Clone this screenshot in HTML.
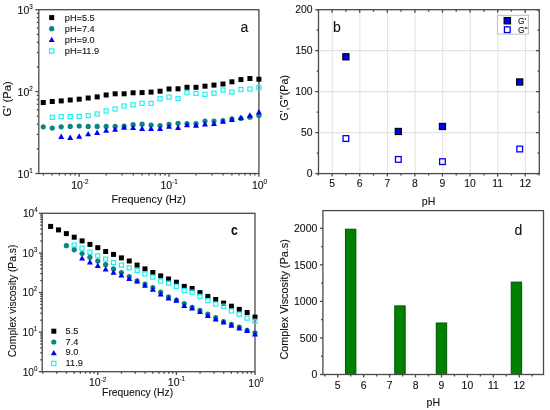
<!DOCTYPE html>
<html><head><meta charset="utf-8"><title>Rheology figure</title>
<style>
html,body{margin:0;padding:0;background:#fff;}
svg{display:block;font-family:'Liberation Sans', Arial, sans-serif;}
</style></head>
<body>
<svg width="550" height="410" viewBox="0 0 550 410">
<rect x="0" y="0" width="550" height="410" fill="#fff"/>
<line x1="43.45" y1="173.50" x2="43.45" y2="175.50" stroke="#4a4a4a" stroke-width="1.3"/>
<line x1="52.15" y1="173.50" x2="52.15" y2="175.50" stroke="#4a4a4a" stroke-width="1.3"/>
<line x1="59.27" y1="173.50" x2="59.27" y2="175.50" stroke="#4a4a4a" stroke-width="1.3"/>
<line x1="65.28" y1="173.50" x2="65.28" y2="175.50" stroke="#4a4a4a" stroke-width="1.3"/>
<line x1="70.49" y1="173.50" x2="70.49" y2="175.50" stroke="#4a4a4a" stroke-width="1.3"/>
<line x1="75.09" y1="173.50" x2="75.09" y2="175.50" stroke="#4a4a4a" stroke-width="1.3"/>
<line x1="79.20" y1="173.50" x2="79.20" y2="176.70" stroke="#4a4a4a" stroke-width="1.3"/>
<line x1="106.25" y1="173.50" x2="106.25" y2="175.50" stroke="#4a4a4a" stroke-width="1.3"/>
<line x1="122.07" y1="173.50" x2="122.07" y2="175.50" stroke="#4a4a4a" stroke-width="1.3"/>
<line x1="133.30" y1="173.50" x2="133.30" y2="175.50" stroke="#4a4a4a" stroke-width="1.3"/>
<line x1="142.00" y1="173.50" x2="142.00" y2="175.50" stroke="#4a4a4a" stroke-width="1.3"/>
<line x1="149.12" y1="173.50" x2="149.12" y2="175.50" stroke="#4a4a4a" stroke-width="1.3"/>
<line x1="155.13" y1="173.50" x2="155.13" y2="175.50" stroke="#4a4a4a" stroke-width="1.3"/>
<line x1="160.34" y1="173.50" x2="160.34" y2="175.50" stroke="#4a4a4a" stroke-width="1.3"/>
<line x1="164.94" y1="173.50" x2="164.94" y2="175.50" stroke="#4a4a4a" stroke-width="1.3"/>
<line x1="169.05" y1="173.50" x2="169.05" y2="176.70" stroke="#4a4a4a" stroke-width="1.3"/>
<line x1="196.10" y1="173.50" x2="196.10" y2="175.50" stroke="#4a4a4a" stroke-width="1.3"/>
<line x1="211.92" y1="173.50" x2="211.92" y2="175.50" stroke="#4a4a4a" stroke-width="1.3"/>
<line x1="223.15" y1="173.50" x2="223.15" y2="175.50" stroke="#4a4a4a" stroke-width="1.3"/>
<line x1="231.85" y1="173.50" x2="231.85" y2="175.50" stroke="#4a4a4a" stroke-width="1.3"/>
<line x1="238.97" y1="173.50" x2="238.97" y2="175.50" stroke="#4a4a4a" stroke-width="1.3"/>
<line x1="244.98" y1="173.50" x2="244.98" y2="175.50" stroke="#4a4a4a" stroke-width="1.3"/>
<line x1="250.19" y1="173.50" x2="250.19" y2="175.50" stroke="#4a4a4a" stroke-width="1.3"/>
<line x1="254.79" y1="173.50" x2="254.79" y2="175.50" stroke="#4a4a4a" stroke-width="1.3"/>
<line x1="258.90" y1="173.50" x2="258.90" y2="176.70" stroke="#4a4a4a" stroke-width="1.3"/>
<line x1="35.40" y1="173.50" x2="38.80" y2="173.50" stroke="#4a4a4a" stroke-width="1.3"/>
<line x1="36.80" y1="148.85" x2="38.80" y2="148.85" stroke="#4a4a4a" stroke-width="1.3"/>
<line x1="36.80" y1="134.42" x2="38.80" y2="134.42" stroke="#4a4a4a" stroke-width="1.3"/>
<line x1="36.80" y1="124.19" x2="38.80" y2="124.19" stroke="#4a4a4a" stroke-width="1.3"/>
<line x1="36.80" y1="116.25" x2="38.80" y2="116.25" stroke="#4a4a4a" stroke-width="1.3"/>
<line x1="36.80" y1="109.77" x2="38.80" y2="109.77" stroke="#4a4a4a" stroke-width="1.3"/>
<line x1="36.80" y1="104.29" x2="38.80" y2="104.29" stroke="#4a4a4a" stroke-width="1.3"/>
<line x1="36.80" y1="99.54" x2="38.80" y2="99.54" stroke="#4a4a4a" stroke-width="1.3"/>
<line x1="36.80" y1="95.35" x2="38.80" y2="95.35" stroke="#4a4a4a" stroke-width="1.3"/>
<line x1="35.40" y1="91.60" x2="38.80" y2="91.60" stroke="#4a4a4a" stroke-width="1.3"/>
<line x1="36.80" y1="66.95" x2="38.80" y2="66.95" stroke="#4a4a4a" stroke-width="1.3"/>
<line x1="36.80" y1="52.52" x2="38.80" y2="52.52" stroke="#4a4a4a" stroke-width="1.3"/>
<line x1="36.80" y1="42.29" x2="38.80" y2="42.29" stroke="#4a4a4a" stroke-width="1.3"/>
<line x1="36.80" y1="34.35" x2="38.80" y2="34.35" stroke="#4a4a4a" stroke-width="1.3"/>
<line x1="36.80" y1="27.87" x2="38.80" y2="27.87" stroke="#4a4a4a" stroke-width="1.3"/>
<line x1="36.80" y1="22.39" x2="38.80" y2="22.39" stroke="#4a4a4a" stroke-width="1.3"/>
<line x1="36.80" y1="17.64" x2="38.80" y2="17.64" stroke="#4a4a4a" stroke-width="1.3"/>
<line x1="36.80" y1="13.45" x2="38.80" y2="13.45" stroke="#4a4a4a" stroke-width="1.3"/>
<line x1="35.40" y1="9.70" x2="38.80" y2="9.70" stroke="#4a4a4a" stroke-width="1.3"/>
<rect x="38.80" y="9.70" width="220.10" height="163.80" fill="none" stroke="#4a4a4a" stroke-width="1.3"/>
<text x="17.60" y="13.60" font-size="10.5" fill="#111111" stroke="#111111" stroke-width="0.1">10<tspan font-size="6.3" dy="-5.0">3</tspan></text>
<text x="17.60" y="95.50" font-size="10.5" fill="#111111" stroke="#111111" stroke-width="0.1">10<tspan font-size="6.3" dy="-5.0">2</tspan></text>
<text x="17.60" y="177.60" font-size="10.5" fill="#111111" stroke="#111111" stroke-width="0.1">10<tspan font-size="6.3" dy="-5.0">1</tspan></text>
<text x="71.20" y="188.60" font-size="10.5" fill="#111111" stroke="#111111" stroke-width="0.1">10<tspan font-size="6.3" dy="-4.9">-2</tspan></text>
<text x="160.40" y="189.20" font-size="10.5" fill="#111111" stroke="#111111" stroke-width="0.1">10<tspan font-size="6.3" dy="-4.9">-1</tspan></text>
<text x="251.90" y="189.40" font-size="10.5" fill="#111111" stroke="#111111" stroke-width="0.1">10<tspan font-size="6.3" dy="-5.0">0</tspan></text>
<text x="148.60" y="203.00" font-size="10.8" text-anchor="middle" font-weight="normal" fill="#111111" stroke="#111111" stroke-width="0.1" >Frequency (Hz)</text>
<text transform="translate(11.3,98.9) rotate(-90)" font-size="11.3" text-anchor="middle" fill="#111111" stroke="#111111" stroke-width="0.1">G' (Pa)</text>
<text x="240.50" y="31.90" font-size="14" text-anchor="start" font-weight="normal" fill="#111111" stroke="#111111" stroke-width="0.1" >a</text>
<rect x="49.20" y="15.10" width="5.00" height="5.00" fill="#000000"/>
<circle cx="51.70" cy="28.70" r="2.60" fill="#0b8580"/>
<polygon points="48.70,42.00 54.70,42.00 51.70,36.80" fill="#0000f5"/>
<rect x="49.55" y="48.85" width="4.30" height="4.30" fill="none" stroke="#22f0f0" stroke-width="1.2"/>
<text x="64.80" y="20.60" font-size="9.2" text-anchor="start" font-weight="normal" fill="#111111" stroke="#111111" stroke-width="0.1" >pH=5.5</text>
<text x="64.80" y="31.57" font-size="9.2" text-anchor="start" font-weight="normal" fill="#111111" stroke="#111111" stroke-width="0.1" >pH=7.4</text>
<text x="64.80" y="42.54" font-size="9.2" text-anchor="start" font-weight="normal" fill="#111111" stroke="#111111" stroke-width="0.1" >pH=9.0</text>
<text x="64.80" y="53.51" font-size="9.2" text-anchor="start" font-weight="normal" fill="#111111" stroke="#111111" stroke-width="0.1" >pH=11.9</text>
<rect x="40.76" y="100.00" width="5.00" height="5.00" fill="#000000"/>
<rect x="49.75" y="99.00" width="5.00" height="5.00" fill="#000000"/>
<rect x="58.73" y="98.40" width="5.00" height="5.00" fill="#000000"/>
<rect x="67.72" y="97.50" width="5.00" height="5.00" fill="#000000"/>
<rect x="76.70" y="96.70" width="5.00" height="5.00" fill="#000000"/>
<rect x="85.69" y="95.50" width="5.00" height="5.00" fill="#000000"/>
<rect x="94.67" y="94.40" width="5.00" height="5.00" fill="#000000"/>
<rect x="103.66" y="92.50" width="5.00" height="5.00" fill="#000000"/>
<rect x="112.64" y="91.30" width="5.00" height="5.00" fill="#000000"/>
<rect x="121.62" y="91.30" width="5.00" height="5.00" fill="#000000"/>
<rect x="130.61" y="90.30" width="5.00" height="5.00" fill="#000000"/>
<rect x="139.60" y="90.10" width="5.00" height="5.00" fill="#000000"/>
<rect x="148.58" y="89.60" width="5.00" height="5.00" fill="#000000"/>
<rect x="157.56" y="88.70" width="5.00" height="5.00" fill="#000000"/>
<rect x="166.55" y="86.50" width="5.00" height="5.00" fill="#000000"/>
<rect x="175.54" y="86.30" width="5.00" height="5.00" fill="#000000"/>
<rect x="184.52" y="84.80" width="5.00" height="5.00" fill="#000000"/>
<rect x="193.51" y="84.80" width="5.00" height="5.00" fill="#000000"/>
<rect x="202.49" y="83.70" width="5.00" height="5.00" fill="#000000"/>
<rect x="211.48" y="82.60" width="5.00" height="5.00" fill="#000000"/>
<rect x="220.46" y="81.50" width="5.00" height="5.00" fill="#000000"/>
<rect x="229.44" y="79.30" width="5.00" height="5.00" fill="#000000"/>
<rect x="238.43" y="77.10" width="5.00" height="5.00" fill="#000000"/>
<rect x="247.42" y="76.00" width="5.00" height="5.00" fill="#000000"/>
<rect x="256.40" y="76.70" width="5.00" height="5.00" fill="#000000"/>
<rect x="50.20" y="115.25" width="4.10" height="4.10" fill="none" stroke="#22f0f0" stroke-width="1.2"/>
<rect x="59.18" y="114.55" width="4.10" height="4.10" fill="none" stroke="#22f0f0" stroke-width="1.2"/>
<rect x="68.17" y="114.55" width="4.10" height="4.10" fill="none" stroke="#22f0f0" stroke-width="1.2"/>
<rect x="77.15" y="114.35" width="4.10" height="4.10" fill="none" stroke="#22f0f0" stroke-width="1.2"/>
<rect x="86.13" y="113.55" width="4.10" height="4.10" fill="none" stroke="#22f0f0" stroke-width="1.2"/>
<rect x="95.12" y="111.95" width="4.10" height="4.10" fill="none" stroke="#22f0f0" stroke-width="1.2"/>
<rect x="104.11" y="108.95" width="4.10" height="4.10" fill="none" stroke="#22f0f0" stroke-width="1.2"/>
<rect x="113.09" y="106.95" width="4.10" height="4.10" fill="none" stroke="#22f0f0" stroke-width="1.2"/>
<rect x="122.08" y="103.95" width="4.10" height="4.10" fill="none" stroke="#22f0f0" stroke-width="1.2"/>
<rect x="131.06" y="102.75" width="4.10" height="4.10" fill="none" stroke="#22f0f0" stroke-width="1.2"/>
<rect x="140.05" y="101.25" width="4.10" height="4.10" fill="none" stroke="#22f0f0" stroke-width="1.2"/>
<rect x="149.03" y="101.35" width="4.10" height="4.10" fill="none" stroke="#22f0f0" stroke-width="1.2"/>
<rect x="158.02" y="96.75" width="4.10" height="4.10" fill="none" stroke="#22f0f0" stroke-width="1.2"/>
<rect x="167.00" y="95.05" width="4.10" height="4.10" fill="none" stroke="#22f0f0" stroke-width="1.2"/>
<rect x="175.99" y="96.55" width="4.10" height="4.10" fill="none" stroke="#22f0f0" stroke-width="1.2"/>
<rect x="184.97" y="90.65" width="4.10" height="4.10" fill="none" stroke="#22f0f0" stroke-width="1.2"/>
<rect x="193.96" y="91.35" width="4.10" height="4.10" fill="none" stroke="#22f0f0" stroke-width="1.2"/>
<rect x="202.94" y="92.25" width="4.10" height="4.10" fill="none" stroke="#22f0f0" stroke-width="1.2"/>
<rect x="211.93" y="91.15" width="4.10" height="4.10" fill="none" stroke="#22f0f0" stroke-width="1.2"/>
<rect x="220.91" y="88.05" width="4.10" height="4.10" fill="none" stroke="#22f0f0" stroke-width="1.2"/>
<rect x="229.89" y="90.05" width="4.10" height="4.10" fill="none" stroke="#22f0f0" stroke-width="1.2"/>
<rect x="238.88" y="87.45" width="4.10" height="4.10" fill="none" stroke="#22f0f0" stroke-width="1.2"/>
<rect x="247.87" y="86.95" width="4.10" height="4.10" fill="none" stroke="#22f0f0" stroke-width="1.2"/>
<rect x="256.85" y="85.65" width="4.10" height="4.10" fill="none" stroke="#22f0f0" stroke-width="1.2"/>
<circle cx="43.26" cy="126.80" r="2.60" fill="#0b8580"/>
<circle cx="52.25" cy="128.00" r="2.60" fill="#0b8580"/>
<circle cx="61.23" cy="126.80" r="2.60" fill="#0b8580"/>
<circle cx="70.22" cy="126.40" r="2.60" fill="#0b8580"/>
<circle cx="79.20" cy="126.00" r="2.60" fill="#0b8580"/>
<circle cx="88.19" cy="126.40" r="2.60" fill="#0b8580"/>
<circle cx="97.17" cy="126.40" r="2.60" fill="#0b8580"/>
<circle cx="106.16" cy="126.40" r="2.60" fill="#0b8580"/>
<circle cx="115.14" cy="126.40" r="2.60" fill="#0b8580"/>
<circle cx="124.12" cy="126.00" r="2.60" fill="#0b8580"/>
<circle cx="133.11" cy="124.70" r="2.60" fill="#0b8580"/>
<circle cx="142.10" cy="124.20" r="2.60" fill="#0b8580"/>
<circle cx="151.08" cy="125.00" r="2.60" fill="#0b8580"/>
<circle cx="160.06" cy="125.50" r="2.60" fill="#0b8580"/>
<circle cx="169.05" cy="124.40" r="2.60" fill="#0b8580"/>
<circle cx="178.04" cy="123.30" r="2.60" fill="#0b8580"/>
<circle cx="187.02" cy="123.70" r="2.60" fill="#0b8580"/>
<circle cx="196.01" cy="123.70" r="2.60" fill="#0b8580"/>
<circle cx="204.99" cy="121.10" r="2.60" fill="#0b8580"/>
<circle cx="213.98" cy="121.10" r="2.60" fill="#0b8580"/>
<circle cx="222.96" cy="120.70" r="2.60" fill="#0b8580"/>
<circle cx="231.94" cy="118.90" r="2.60" fill="#0b8580"/>
<circle cx="240.93" cy="118.50" r="2.60" fill="#0b8580"/>
<circle cx="249.92" cy="117.20" r="2.60" fill="#0b8580"/>
<circle cx="258.90" cy="115.60" r="2.60" fill="#0b8580"/>
<polygon points="58.23,139.00 64.23,139.00 61.23,133.60" fill="#0000f5"/>
<polygon points="67.22,139.90 73.22,139.90 70.22,134.50" fill="#0000f5"/>
<polygon points="76.20,138.70 82.20,138.70 79.20,133.30" fill="#0000f5"/>
<polygon points="85.18,136.30 91.18,136.30 88.18,130.90" fill="#0000f5"/>
<polygon points="94.17,134.90 100.17,134.90 97.17,129.50" fill="#0000f5"/>
<polygon points="103.15,132.80 109.15,132.80 106.15,127.40" fill="#0000f5"/>
<polygon points="112.14,131.80 118.14,131.80 115.14,126.40" fill="#0000f5"/>
<polygon points="121.12,129.70 127.12,129.70 124.12,124.30" fill="#0000f5"/>
<polygon points="130.11,130.10 136.11,130.10 133.11,124.70" fill="#0000f5"/>
<polygon points="139.09,131.00 145.09,131.00 142.09,125.60" fill="#0000f5"/>
<polygon points="148.08,131.00 154.08,131.00 151.08,125.60" fill="#0000f5"/>
<polygon points="157.06,131.00 163.06,131.00 160.06,125.60" fill="#0000f5"/>
<polygon points="166.05,128.80 172.05,128.80 169.05,123.40" fill="#0000f5"/>
<polygon points="175.03,129.90 181.03,129.90 178.03,124.50" fill="#0000f5"/>
<polygon points="184.02,127.30 190.02,127.30 187.02,121.90" fill="#0000f5"/>
<polygon points="193.00,127.70 199.00,127.70 196.00,122.30" fill="#0000f5"/>
<polygon points="201.99,126.40 207.99,126.40 204.99,121.00" fill="#0000f5"/>
<polygon points="210.97,126.00 216.97,126.00 213.97,120.60" fill="#0000f5"/>
<polygon points="219.96,123.80 225.96,123.80 222.96,118.40" fill="#0000f5"/>
<polygon points="228.94,122.00 234.94,122.00 231.94,116.60" fill="#0000f5"/>
<polygon points="237.93,119.90 243.93,119.90 240.93,114.50" fill="#0000f5"/>
<polygon points="246.91,117.70 252.91,117.70 249.91,112.30" fill="#0000f5"/>
<polygon points="255.90,114.40 261.90,114.40 258.90,109.00" fill="#0000f5"/>
<line x1="332.30" y1="9.70" x2="332.30" y2="173.60" stroke="#e4e4e4" stroke-width="1.1"/>
<line x1="359.89" y1="9.70" x2="359.89" y2="173.60" stroke="#e4e4e4" stroke-width="1.1"/>
<line x1="387.48" y1="9.70" x2="387.48" y2="173.60" stroke="#e4e4e4" stroke-width="1.1"/>
<line x1="415.07" y1="9.70" x2="415.07" y2="173.60" stroke="#e4e4e4" stroke-width="1.1"/>
<line x1="442.66" y1="9.70" x2="442.66" y2="173.60" stroke="#e4e4e4" stroke-width="1.1"/>
<line x1="470.25" y1="9.70" x2="470.25" y2="173.60" stroke="#e4e4e4" stroke-width="1.1"/>
<line x1="497.84" y1="9.70" x2="497.84" y2="173.60" stroke="#e4e4e4" stroke-width="1.1"/>
<line x1="525.43" y1="9.70" x2="525.43" y2="173.60" stroke="#e4e4e4" stroke-width="1.1"/>
<line x1="318.50" y1="132.62" x2="539.30" y2="132.62" stroke="#e4e4e4" stroke-width="1.1"/>
<line x1="318.50" y1="91.65" x2="539.30" y2="91.65" stroke="#e4e4e4" stroke-width="1.1"/>
<line x1="318.50" y1="50.67" x2="539.30" y2="50.67" stroke="#e4e4e4" stroke-width="1.1"/>
<line x1="318.31" y1="173.60" x2="318.31" y2="175.60" stroke="#4a4a4a" stroke-width="1.3"/>
<line x1="318.31" y1="9.70" x2="318.31" y2="11.70" stroke="#4a4a4a" stroke-width="1.3"/>
<line x1="332.10" y1="173.60" x2="332.10" y2="176.60" stroke="#4a4a4a" stroke-width="1.3"/>
<line x1="332.10" y1="9.70" x2="332.10" y2="12.70" stroke="#4a4a4a" stroke-width="1.3"/>
<line x1="345.90" y1="173.60" x2="345.90" y2="175.60" stroke="#4a4a4a" stroke-width="1.3"/>
<line x1="345.90" y1="9.70" x2="345.90" y2="11.70" stroke="#4a4a4a" stroke-width="1.3"/>
<line x1="359.69" y1="173.60" x2="359.69" y2="176.60" stroke="#4a4a4a" stroke-width="1.3"/>
<line x1="359.69" y1="9.70" x2="359.69" y2="12.70" stroke="#4a4a4a" stroke-width="1.3"/>
<line x1="373.49" y1="173.60" x2="373.49" y2="175.60" stroke="#4a4a4a" stroke-width="1.3"/>
<line x1="373.49" y1="9.70" x2="373.49" y2="11.70" stroke="#4a4a4a" stroke-width="1.3"/>
<line x1="387.28" y1="173.60" x2="387.28" y2="176.60" stroke="#4a4a4a" stroke-width="1.3"/>
<line x1="387.28" y1="9.70" x2="387.28" y2="12.70" stroke="#4a4a4a" stroke-width="1.3"/>
<line x1="401.08" y1="173.60" x2="401.08" y2="175.60" stroke="#4a4a4a" stroke-width="1.3"/>
<line x1="401.08" y1="9.70" x2="401.08" y2="11.70" stroke="#4a4a4a" stroke-width="1.3"/>
<line x1="414.87" y1="173.60" x2="414.87" y2="176.60" stroke="#4a4a4a" stroke-width="1.3"/>
<line x1="414.87" y1="9.70" x2="414.87" y2="12.70" stroke="#4a4a4a" stroke-width="1.3"/>
<line x1="428.67" y1="173.60" x2="428.67" y2="175.60" stroke="#4a4a4a" stroke-width="1.3"/>
<line x1="428.67" y1="9.70" x2="428.67" y2="11.70" stroke="#4a4a4a" stroke-width="1.3"/>
<line x1="442.46" y1="173.60" x2="442.46" y2="176.60" stroke="#4a4a4a" stroke-width="1.3"/>
<line x1="442.46" y1="9.70" x2="442.46" y2="12.70" stroke="#4a4a4a" stroke-width="1.3"/>
<line x1="456.25" y1="173.60" x2="456.25" y2="175.60" stroke="#4a4a4a" stroke-width="1.3"/>
<line x1="456.25" y1="9.70" x2="456.25" y2="11.70" stroke="#4a4a4a" stroke-width="1.3"/>
<line x1="470.05" y1="173.60" x2="470.05" y2="176.60" stroke="#4a4a4a" stroke-width="1.3"/>
<line x1="470.05" y1="9.70" x2="470.05" y2="12.70" stroke="#4a4a4a" stroke-width="1.3"/>
<line x1="483.85" y1="173.60" x2="483.85" y2="175.60" stroke="#4a4a4a" stroke-width="1.3"/>
<line x1="483.85" y1="9.70" x2="483.85" y2="11.70" stroke="#4a4a4a" stroke-width="1.3"/>
<line x1="497.64" y1="173.60" x2="497.64" y2="176.60" stroke="#4a4a4a" stroke-width="1.3"/>
<line x1="497.64" y1="9.70" x2="497.64" y2="12.70" stroke="#4a4a4a" stroke-width="1.3"/>
<line x1="511.44" y1="173.60" x2="511.44" y2="175.60" stroke="#4a4a4a" stroke-width="1.3"/>
<line x1="511.44" y1="9.70" x2="511.44" y2="11.70" stroke="#4a4a4a" stroke-width="1.3"/>
<line x1="525.23" y1="173.60" x2="525.23" y2="176.60" stroke="#4a4a4a" stroke-width="1.3"/>
<line x1="525.23" y1="9.70" x2="525.23" y2="12.70" stroke="#4a4a4a" stroke-width="1.3"/>
<line x1="539.03" y1="173.60" x2="539.03" y2="175.60" stroke="#4a4a4a" stroke-width="1.3"/>
<line x1="539.03" y1="9.70" x2="539.03" y2="11.70" stroke="#4a4a4a" stroke-width="1.3"/>
<line x1="315.30" y1="173.60" x2="318.50" y2="173.60" stroke="#4a4a4a" stroke-width="1.3"/>
<line x1="536.10" y1="173.60" x2="539.30" y2="173.60" stroke="#4a4a4a" stroke-width="1.3"/>
<line x1="316.70" y1="153.11" x2="318.50" y2="153.11" stroke="#4a4a4a" stroke-width="1.3"/>
<line x1="537.50" y1="153.11" x2="539.30" y2="153.11" stroke="#4a4a4a" stroke-width="1.3"/>
<line x1="315.30" y1="132.62" x2="318.50" y2="132.62" stroke="#4a4a4a" stroke-width="1.3"/>
<line x1="536.10" y1="132.62" x2="539.30" y2="132.62" stroke="#4a4a4a" stroke-width="1.3"/>
<line x1="316.70" y1="112.14" x2="318.50" y2="112.14" stroke="#4a4a4a" stroke-width="1.3"/>
<line x1="537.50" y1="112.14" x2="539.30" y2="112.14" stroke="#4a4a4a" stroke-width="1.3"/>
<line x1="315.30" y1="91.65" x2="318.50" y2="91.65" stroke="#4a4a4a" stroke-width="1.3"/>
<line x1="536.10" y1="91.65" x2="539.30" y2="91.65" stroke="#4a4a4a" stroke-width="1.3"/>
<line x1="316.70" y1="71.16" x2="318.50" y2="71.16" stroke="#4a4a4a" stroke-width="1.3"/>
<line x1="537.50" y1="71.16" x2="539.30" y2="71.16" stroke="#4a4a4a" stroke-width="1.3"/>
<line x1="315.30" y1="50.67" x2="318.50" y2="50.67" stroke="#4a4a4a" stroke-width="1.3"/>
<line x1="536.10" y1="50.67" x2="539.30" y2="50.67" stroke="#4a4a4a" stroke-width="1.3"/>
<line x1="316.70" y1="30.19" x2="318.50" y2="30.19" stroke="#4a4a4a" stroke-width="1.3"/>
<line x1="537.50" y1="30.19" x2="539.30" y2="30.19" stroke="#4a4a4a" stroke-width="1.3"/>
<line x1="315.30" y1="9.70" x2="318.50" y2="9.70" stroke="#4a4a4a" stroke-width="1.3"/>
<line x1="536.10" y1="9.70" x2="539.30" y2="9.70" stroke="#4a4a4a" stroke-width="1.3"/>
<rect x="318.50" y="9.70" width="220.80" height="163.90" fill="none" stroke="#4a4a4a" stroke-width="1.3"/>
<text x="312.60" y="177.20" font-size="10.4" text-anchor="end" font-weight="normal" fill="#111111" stroke="#111111" stroke-width="0.1" >0</text>
<text x="312.60" y="136.22" font-size="10.4" text-anchor="end" font-weight="normal" fill="#111111" stroke="#111111" stroke-width="0.1" >50</text>
<text x="312.60" y="95.25" font-size="10.4" text-anchor="end" font-weight="normal" fill="#111111" stroke="#111111" stroke-width="0.1" >100</text>
<text x="312.60" y="54.27" font-size="10.4" text-anchor="end" font-weight="normal" fill="#111111" stroke="#111111" stroke-width="0.1" >150</text>
<text x="312.60" y="13.30" font-size="10.4" text-anchor="end" font-weight="normal" fill="#111111" stroke="#111111" stroke-width="0.1" >200</text>
<text x="332.10" y="187.30" font-size="10.4" text-anchor="middle" font-weight="normal" fill="#111111" stroke="#111111" stroke-width="0.1" >5</text>
<text x="359.69" y="187.30" font-size="10.4" text-anchor="middle" font-weight="normal" fill="#111111" stroke="#111111" stroke-width="0.1" >6</text>
<text x="387.28" y="187.30" font-size="10.4" text-anchor="middle" font-weight="normal" fill="#111111" stroke="#111111" stroke-width="0.1" >7</text>
<text x="414.87" y="187.30" font-size="10.4" text-anchor="middle" font-weight="normal" fill="#111111" stroke="#111111" stroke-width="0.1" >8</text>
<text x="442.46" y="187.30" font-size="10.4" text-anchor="middle" font-weight="normal" fill="#111111" stroke="#111111" stroke-width="0.1" >9</text>
<text x="470.05" y="187.30" font-size="10.4" text-anchor="middle" font-weight="normal" fill="#111111" stroke="#111111" stroke-width="0.1" >10</text>
<text x="497.64" y="187.30" font-size="10.4" text-anchor="middle" font-weight="normal" fill="#111111" stroke="#111111" stroke-width="0.1" >11</text>
<text x="525.23" y="187.30" font-size="10.4" text-anchor="middle" font-weight="normal" fill="#111111" stroke="#111111" stroke-width="0.1" >12</text>
<text x="428.60" y="204.70" font-size="10.6" text-anchor="middle" font-weight="normal" fill="#111111" stroke="#111111" stroke-width="0.1" >pH</text>
<text transform="translate(288.2,98.0) rotate(-90)" font-size="10.65" text-anchor="middle" fill="#111111" stroke="#111111" stroke-width="0.1">G',G''(Pa)</text>
<text x="333.00" y="31.60" font-size="14" text-anchor="start" font-weight="normal" fill="#111111" stroke="#111111" stroke-width="0.1" >b</text>
<rect x="497.4" y="15.3" width="31.2" height="18.8" fill="#fff" stroke="#b8b8b8" stroke-width="0.9"/>
<rect x="504.10" y="17.50" width="6.40" height="6.40" fill="#0000f5" stroke="#000" stroke-width="1.1"/>
<rect x="504.45" y="26.85" width="5.70" height="5.70" fill="none" stroke="#0000f5" stroke-width="1.3"/>
<text x="518.00" y="23.60" font-size="8.4" text-anchor="start" font-weight="normal" fill="#111111" stroke="#111111" stroke-width="0.1" >G'</text>
<text x="518.00" y="32.80" font-size="8.4" text-anchor="start" font-weight="normal" fill="#111111" stroke="#111111" stroke-width="0.1" >G''</text>
<rect x="342.80" y="53.72" width="6.20" height="6.20" fill="#0000f5" stroke="#000" stroke-width="1.1"/>
<rect x="395.22" y="128.38" width="6.20" height="6.20" fill="#0000f5" stroke="#000" stroke-width="1.1"/>
<rect x="439.36" y="123.38" width="6.20" height="6.20" fill="#0000f5" stroke="#000" stroke-width="1.1"/>
<rect x="516.61" y="78.88" width="6.20" height="6.20" fill="#0000f5" stroke="#000" stroke-width="1.1"/>
<rect x="343.05" y="135.68" width="5.70" height="5.70" fill="none" stroke="#0000f5" stroke-width="1.3"/>
<rect x="395.47" y="156.57" width="5.70" height="5.70" fill="none" stroke="#0000f5" stroke-width="1.3"/>
<rect x="439.61" y="158.79" width="5.70" height="5.70" fill="none" stroke="#0000f5" stroke-width="1.3"/>
<rect x="516.86" y="146.16" width="5.70" height="5.70" fill="none" stroke="#0000f5" stroke-width="1.3"/>
<line x1="42.86" y1="371.70" x2="42.86" y2="373.70" stroke="#4a4a4a" stroke-width="1.3"/>
<line x1="56.70" y1="371.70" x2="56.70" y2="373.70" stroke="#4a4a4a" stroke-width="1.3"/>
<line x1="66.52" y1="371.70" x2="66.52" y2="373.70" stroke="#4a4a4a" stroke-width="1.3"/>
<line x1="74.14" y1="371.70" x2="74.14" y2="373.70" stroke="#4a4a4a" stroke-width="1.3"/>
<line x1="80.36" y1="371.70" x2="80.36" y2="373.70" stroke="#4a4a4a" stroke-width="1.3"/>
<line x1="85.62" y1="371.70" x2="85.62" y2="373.70" stroke="#4a4a4a" stroke-width="1.3"/>
<line x1="90.18" y1="371.70" x2="90.18" y2="373.70" stroke="#4a4a4a" stroke-width="1.3"/>
<line x1="94.20" y1="371.70" x2="94.20" y2="373.70" stroke="#4a4a4a" stroke-width="1.3"/>
<line x1="97.80" y1="371.70" x2="97.80" y2="374.90" stroke="#4a4a4a" stroke-width="1.3"/>
<line x1="121.46" y1="371.70" x2="121.46" y2="373.70" stroke="#4a4a4a" stroke-width="1.3"/>
<line x1="135.30" y1="371.70" x2="135.30" y2="373.70" stroke="#4a4a4a" stroke-width="1.3"/>
<line x1="145.12" y1="371.70" x2="145.12" y2="373.70" stroke="#4a4a4a" stroke-width="1.3"/>
<line x1="152.74" y1="371.70" x2="152.74" y2="373.70" stroke="#4a4a4a" stroke-width="1.3"/>
<line x1="158.96" y1="371.70" x2="158.96" y2="373.70" stroke="#4a4a4a" stroke-width="1.3"/>
<line x1="164.22" y1="371.70" x2="164.22" y2="373.70" stroke="#4a4a4a" stroke-width="1.3"/>
<line x1="168.78" y1="371.70" x2="168.78" y2="373.70" stroke="#4a4a4a" stroke-width="1.3"/>
<line x1="172.80" y1="371.70" x2="172.80" y2="373.70" stroke="#4a4a4a" stroke-width="1.3"/>
<line x1="176.40" y1="371.70" x2="176.40" y2="374.90" stroke="#4a4a4a" stroke-width="1.3"/>
<line x1="200.06" y1="371.70" x2="200.06" y2="373.70" stroke="#4a4a4a" stroke-width="1.3"/>
<line x1="213.90" y1="371.70" x2="213.90" y2="373.70" stroke="#4a4a4a" stroke-width="1.3"/>
<line x1="223.72" y1="371.70" x2="223.72" y2="373.70" stroke="#4a4a4a" stroke-width="1.3"/>
<line x1="231.34" y1="371.70" x2="231.34" y2="373.70" stroke="#4a4a4a" stroke-width="1.3"/>
<line x1="237.56" y1="371.70" x2="237.56" y2="373.70" stroke="#4a4a4a" stroke-width="1.3"/>
<line x1="242.82" y1="371.70" x2="242.82" y2="373.70" stroke="#4a4a4a" stroke-width="1.3"/>
<line x1="247.38" y1="371.70" x2="247.38" y2="373.70" stroke="#4a4a4a" stroke-width="1.3"/>
<line x1="251.40" y1="371.70" x2="251.40" y2="373.70" stroke="#4a4a4a" stroke-width="1.3"/>
<line x1="255.00" y1="371.70" x2="255.00" y2="374.90" stroke="#4a4a4a" stroke-width="1.3"/>
<line x1="38.80" y1="371.70" x2="42.20" y2="371.70" stroke="#4a4a4a" stroke-width="1.3"/>
<line x1="40.20" y1="359.78" x2="42.20" y2="359.78" stroke="#4a4a4a" stroke-width="1.3"/>
<line x1="40.20" y1="352.81" x2="42.20" y2="352.81" stroke="#4a4a4a" stroke-width="1.3"/>
<line x1="40.20" y1="347.86" x2="42.20" y2="347.86" stroke="#4a4a4a" stroke-width="1.3"/>
<line x1="40.20" y1="344.02" x2="42.20" y2="344.02" stroke="#4a4a4a" stroke-width="1.3"/>
<line x1="40.20" y1="340.89" x2="42.20" y2="340.89" stroke="#4a4a4a" stroke-width="1.3"/>
<line x1="40.20" y1="338.23" x2="42.20" y2="338.23" stroke="#4a4a4a" stroke-width="1.3"/>
<line x1="40.20" y1="335.94" x2="42.20" y2="335.94" stroke="#4a4a4a" stroke-width="1.3"/>
<line x1="40.20" y1="333.91" x2="42.20" y2="333.91" stroke="#4a4a4a" stroke-width="1.3"/>
<line x1="38.80" y1="332.10" x2="42.20" y2="332.10" stroke="#4a4a4a" stroke-width="1.3"/>
<line x1="40.20" y1="320.18" x2="42.20" y2="320.18" stroke="#4a4a4a" stroke-width="1.3"/>
<line x1="40.20" y1="313.21" x2="42.20" y2="313.21" stroke="#4a4a4a" stroke-width="1.3"/>
<line x1="40.20" y1="308.26" x2="42.20" y2="308.26" stroke="#4a4a4a" stroke-width="1.3"/>
<line x1="40.20" y1="304.42" x2="42.20" y2="304.42" stroke="#4a4a4a" stroke-width="1.3"/>
<line x1="40.20" y1="301.29" x2="42.20" y2="301.29" stroke="#4a4a4a" stroke-width="1.3"/>
<line x1="40.20" y1="298.63" x2="42.20" y2="298.63" stroke="#4a4a4a" stroke-width="1.3"/>
<line x1="40.20" y1="296.34" x2="42.20" y2="296.34" stroke="#4a4a4a" stroke-width="1.3"/>
<line x1="40.20" y1="294.31" x2="42.20" y2="294.31" stroke="#4a4a4a" stroke-width="1.3"/>
<line x1="38.80" y1="292.50" x2="42.20" y2="292.50" stroke="#4a4a4a" stroke-width="1.3"/>
<line x1="40.20" y1="280.58" x2="42.20" y2="280.58" stroke="#4a4a4a" stroke-width="1.3"/>
<line x1="40.20" y1="273.61" x2="42.20" y2="273.61" stroke="#4a4a4a" stroke-width="1.3"/>
<line x1="40.20" y1="268.66" x2="42.20" y2="268.66" stroke="#4a4a4a" stroke-width="1.3"/>
<line x1="40.20" y1="264.82" x2="42.20" y2="264.82" stroke="#4a4a4a" stroke-width="1.3"/>
<line x1="40.20" y1="261.69" x2="42.20" y2="261.69" stroke="#4a4a4a" stroke-width="1.3"/>
<line x1="40.20" y1="259.03" x2="42.20" y2="259.03" stroke="#4a4a4a" stroke-width="1.3"/>
<line x1="40.20" y1="256.74" x2="42.20" y2="256.74" stroke="#4a4a4a" stroke-width="1.3"/>
<line x1="40.20" y1="254.71" x2="42.20" y2="254.71" stroke="#4a4a4a" stroke-width="1.3"/>
<line x1="38.80" y1="252.90" x2="42.20" y2="252.90" stroke="#4a4a4a" stroke-width="1.3"/>
<line x1="40.20" y1="240.98" x2="42.20" y2="240.98" stroke="#4a4a4a" stroke-width="1.3"/>
<line x1="40.20" y1="234.01" x2="42.20" y2="234.01" stroke="#4a4a4a" stroke-width="1.3"/>
<line x1="40.20" y1="229.06" x2="42.20" y2="229.06" stroke="#4a4a4a" stroke-width="1.3"/>
<line x1="40.20" y1="225.22" x2="42.20" y2="225.22" stroke="#4a4a4a" stroke-width="1.3"/>
<line x1="40.20" y1="222.09" x2="42.20" y2="222.09" stroke="#4a4a4a" stroke-width="1.3"/>
<line x1="40.20" y1="219.43" x2="42.20" y2="219.43" stroke="#4a4a4a" stroke-width="1.3"/>
<line x1="40.20" y1="217.14" x2="42.20" y2="217.14" stroke="#4a4a4a" stroke-width="1.3"/>
<line x1="40.20" y1="215.11" x2="42.20" y2="215.11" stroke="#4a4a4a" stroke-width="1.3"/>
<line x1="38.80" y1="213.30" x2="42.20" y2="213.30" stroke="#4a4a4a" stroke-width="1.3"/>
<rect x="42.20" y="213.30" width="212.80" height="158.40" fill="none" stroke="#4a4a4a" stroke-width="1.3"/>
<text x="23.00" y="216.90" font-size="10.1" fill="#111111" stroke="#111111" stroke-width="0.1">10<tspan font-size="6.3" dy="-5.0">4</tspan></text>
<text x="22.60" y="256.80" font-size="10.1" fill="#111111" stroke="#111111" stroke-width="0.1">10<tspan font-size="6.3" dy="-5.0">3</tspan></text>
<text x="22.60" y="296.40" font-size="10.1" fill="#111111" stroke="#111111" stroke-width="0.1">10<tspan font-size="6.3" dy="-5.0">2</tspan></text>
<text x="22.60" y="336.00" font-size="10.1" fill="#111111" stroke="#111111" stroke-width="0.1">10<tspan font-size="6.3" dy="-5.0">1</tspan></text>
<text x="22.70" y="375.50" font-size="10.1" fill="#111111" stroke="#111111" stroke-width="0.1">10<tspan font-size="6.3" dy="-5.0">0</tspan></text>
<text x="89.00" y="386.40" font-size="10.5" fill="#111111" stroke="#111111" stroke-width="0.1">10<tspan font-size="6.3" dy="-4.9">-2</tspan></text>
<text x="167.80" y="386.20" font-size="10.5" fill="#111111" stroke="#111111" stroke-width="0.1">10<tspan font-size="6.3" dy="-4.9">-1</tspan></text>
<text x="248.30" y="386.60" font-size="10.5" fill="#111111" stroke="#111111" stroke-width="0.1">10<tspan font-size="6.3" dy="-5.0">0</tspan></text>
<text x="137.60" y="396.40" font-size="10.3" text-anchor="middle" font-weight="normal" fill="#111111" stroke="#111111" stroke-width="0.1" >Frequency (Hz)</text>
<text transform="translate(15.6,301.0) rotate(-90)" font-size="10.3" text-anchor="middle" fill="#111111" stroke="#111111" stroke-width="0.1">Complex viscosity (Pa.s)</text>
<text transform="translate(231.0,234.9) scale(0.84,1)" font-size="14.6" font-weight="bold" fill="#111111">c</text>
<rect x="51.30" y="328.70" width="5.00" height="5.00" fill="#000000"/>
<circle cx="53.80" cy="342.00" r="2.60" fill="#0b8580"/>
<polygon points="50.80,355.20 56.80,355.20 53.80,350.00" fill="#0000f5"/>
<rect x="51.65" y="361.35" width="4.30" height="4.30" fill="none" stroke="#22f0f0" stroke-width="1.2"/>
<text x="65.60" y="333.80" font-size="9.2" text-anchor="start" font-weight="normal" fill="#111111" stroke="#111111" stroke-width="0.1" >5.5</text>
<text x="65.60" y="344.57" font-size="9.2" text-anchor="start" font-weight="normal" fill="#111111" stroke="#111111" stroke-width="0.1" >7.4</text>
<text x="65.60" y="355.34" font-size="9.2" text-anchor="start" font-weight="normal" fill="#111111" stroke="#111111" stroke-width="0.1" >9.0</text>
<text x="65.60" y="366.11" font-size="9.2" text-anchor="start" font-weight="normal" fill="#111111" stroke="#111111" stroke-width="0.1" >11.9</text>
<rect x="48.14" y="223.90" width="5.00" height="5.00" fill="#000000"/>
<rect x="56.00" y="227.40" width="5.00" height="5.00" fill="#000000"/>
<rect x="63.86" y="231.10" width="5.00" height="5.00" fill="#000000"/>
<rect x="71.72" y="234.70" width="5.00" height="5.00" fill="#000000"/>
<rect x="79.58" y="238.40" width="5.00" height="5.00" fill="#000000"/>
<rect x="87.44" y="241.90" width="5.00" height="5.00" fill="#000000"/>
<rect x="95.30" y="245.20" width="5.00" height="5.00" fill="#000000"/>
<rect x="103.16" y="249.00" width="5.00" height="5.00" fill="#000000"/>
<rect x="111.02" y="251.90" width="5.00" height="5.00" fill="#000000"/>
<rect x="118.88" y="255.40" width="5.00" height="5.00" fill="#000000"/>
<rect x="126.74" y="258.50" width="5.00" height="5.00" fill="#000000"/>
<rect x="134.60" y="262.60" width="5.00" height="5.00" fill="#000000"/>
<rect x="142.46" y="266.40" width="5.00" height="5.00" fill="#000000"/>
<rect x="150.32" y="270.00" width="5.00" height="5.00" fill="#000000"/>
<rect x="158.18" y="273.40" width="5.00" height="5.00" fill="#000000"/>
<rect x="166.04" y="276.50" width="5.00" height="5.00" fill="#000000"/>
<rect x="173.90" y="279.70" width="5.00" height="5.00" fill="#000000"/>
<rect x="181.76" y="283.90" width="5.00" height="5.00" fill="#000000"/>
<rect x="189.62" y="286.00" width="5.00" height="5.00" fill="#000000"/>
<rect x="197.48" y="290.10" width="5.00" height="5.00" fill="#000000"/>
<rect x="205.34" y="293.90" width="5.00" height="5.00" fill="#000000"/>
<rect x="213.20" y="297.00" width="5.00" height="5.00" fill="#000000"/>
<rect x="221.06" y="300.60" width="5.00" height="5.00" fill="#000000"/>
<rect x="228.92" y="303.70" width="5.00" height="5.00" fill="#000000"/>
<rect x="236.78" y="306.90" width="5.00" height="5.00" fill="#000000"/>
<rect x="244.64" y="310.00" width="5.00" height="5.00" fill="#000000"/>
<rect x="252.50" y="314.60" width="5.00" height="5.00" fill="#000000"/>
<rect x="72.17" y="242.95" width="4.10" height="4.10" fill="none" stroke="#22f0f0" stroke-width="1.2"/>
<rect x="80.03" y="246.05" width="4.10" height="4.10" fill="none" stroke="#22f0f0" stroke-width="1.2"/>
<rect x="87.89" y="250.25" width="4.10" height="4.10" fill="none" stroke="#22f0f0" stroke-width="1.2"/>
<rect x="95.75" y="253.75" width="4.10" height="4.10" fill="none" stroke="#22f0f0" stroke-width="1.2"/>
<rect x="103.61" y="257.05" width="4.10" height="4.10" fill="none" stroke="#22f0f0" stroke-width="1.2"/>
<rect x="111.47" y="260.55" width="4.10" height="4.10" fill="none" stroke="#22f0f0" stroke-width="1.2"/>
<rect x="119.33" y="263.05" width="4.10" height="4.10" fill="none" stroke="#22f0f0" stroke-width="1.2"/>
<rect x="127.19" y="265.75" width="4.10" height="4.10" fill="none" stroke="#22f0f0" stroke-width="1.2"/>
<rect x="135.05" y="268.45" width="4.10" height="4.10" fill="none" stroke="#22f0f0" stroke-width="1.2"/>
<rect x="142.91" y="271.95" width="4.10" height="4.10" fill="none" stroke="#22f0f0" stroke-width="1.2"/>
<rect x="150.77" y="275.05" width="4.10" height="4.10" fill="none" stroke="#22f0f0" stroke-width="1.2"/>
<rect x="158.63" y="279.05" width="4.10" height="4.10" fill="none" stroke="#22f0f0" stroke-width="1.2"/>
<rect x="166.49" y="281.15" width="4.10" height="4.10" fill="none" stroke="#22f0f0" stroke-width="1.2"/>
<rect x="174.35" y="284.35" width="4.10" height="4.10" fill="none" stroke="#22f0f0" stroke-width="1.2"/>
<rect x="182.21" y="288.45" width="4.10" height="4.10" fill="none" stroke="#22f0f0" stroke-width="1.2"/>
<rect x="190.07" y="290.15" width="4.10" height="4.10" fill="none" stroke="#22f0f0" stroke-width="1.2"/>
<rect x="197.93" y="294.35" width="4.10" height="4.10" fill="none" stroke="#22f0f0" stroke-width="1.2"/>
<rect x="205.79" y="298.55" width="4.10" height="4.10" fill="none" stroke="#22f0f0" stroke-width="1.2"/>
<rect x="213.65" y="302.05" width="4.10" height="4.10" fill="none" stroke="#22f0f0" stroke-width="1.2"/>
<rect x="221.51" y="304.15" width="4.10" height="4.10" fill="none" stroke="#22f0f0" stroke-width="1.2"/>
<rect x="229.37" y="308.95" width="4.10" height="4.10" fill="none" stroke="#22f0f0" stroke-width="1.2"/>
<rect x="237.23" y="312.15" width="4.10" height="4.10" fill="none" stroke="#22f0f0" stroke-width="1.2"/>
<rect x="245.09" y="316.05" width="4.10" height="4.10" fill="none" stroke="#22f0f0" stroke-width="1.2"/>
<rect x="252.95" y="319.25" width="4.10" height="4.10" fill="none" stroke="#22f0f0" stroke-width="1.2"/>
<circle cx="66.36" cy="245.70" r="2.60" fill="#0b8580"/>
<circle cx="74.22" cy="249.80" r="2.60" fill="#0b8580"/>
<circle cx="82.08" cy="253.50" r="2.60" fill="#0b8580"/>
<circle cx="89.94" cy="257.30" r="2.60" fill="#0b8580"/>
<circle cx="97.80" cy="261.00" r="2.60" fill="#0b8580"/>
<circle cx="105.66" cy="264.70" r="2.60" fill="#0b8580"/>
<circle cx="113.52" cy="268.90" r="2.60" fill="#0b8580"/>
<circle cx="121.38" cy="272.60" r="2.60" fill="#0b8580"/>
<circle cx="129.24" cy="276.70" r="2.60" fill="#0b8580"/>
<circle cx="137.10" cy="280.90" r="2.60" fill="#0b8580"/>
<circle cx="144.96" cy="284.00" r="2.60" fill="#0b8580"/>
<circle cx="152.82" cy="287.60" r="2.60" fill="#0b8580"/>
<circle cx="160.68" cy="292.20" r="2.60" fill="#0b8580"/>
<circle cx="168.54" cy="296.80" r="2.60" fill="#0b8580"/>
<circle cx="176.40" cy="300.00" r="2.60" fill="#0b8580"/>
<circle cx="184.26" cy="303.50" r="2.60" fill="#0b8580"/>
<circle cx="192.12" cy="307.30" r="2.60" fill="#0b8580"/>
<circle cx="199.98" cy="310.40" r="2.60" fill="#0b8580"/>
<circle cx="207.84" cy="314.20" r="2.60" fill="#0b8580"/>
<circle cx="215.70" cy="317.70" r="2.60" fill="#0b8580"/>
<circle cx="223.56" cy="321.50" r="2.60" fill="#0b8580"/>
<circle cx="231.42" cy="324.40" r="2.60" fill="#0b8580"/>
<circle cx="239.28" cy="327.10" r="2.60" fill="#0b8580"/>
<circle cx="247.14" cy="330.30" r="2.60" fill="#0b8580"/>
<circle cx="255.00" cy="332.80" r="2.60" fill="#0b8580"/>
<polygon points="79.08,260.60 85.08,260.60 82.08,255.20" fill="#0000f5"/>
<polygon points="86.94,264.50 92.94,264.50 89.94,259.10" fill="#0000f5"/>
<polygon points="94.80,268.00 100.80,268.00 97.80,262.60" fill="#0000f5"/>
<polygon points="102.66,271.60 108.66,271.60 105.66,266.20" fill="#0000f5"/>
<polygon points="110.52,274.70 116.52,274.70 113.52,269.30" fill="#0000f5"/>
<polygon points="118.38,277.40 124.38,277.40 121.38,272.00" fill="#0000f5"/>
<polygon points="126.24,280.90 132.24,280.90 129.24,275.50" fill="#0000f5"/>
<polygon points="134.10,283.60 140.10,283.60 137.10,278.20" fill="#0000f5"/>
<polygon points="141.96,287.70 147.96,287.70 144.96,282.30" fill="#0000f5"/>
<polygon points="149.82,291.70 155.82,291.70 152.82,286.30" fill="#0000f5"/>
<polygon points="157.68,296.40 163.68,296.40 160.68,291.00" fill="#0000f5"/>
<polygon points="165.54,300.60 171.54,300.60 168.54,295.20" fill="#0000f5"/>
<polygon points="173.40,302.70 179.40,302.70 176.40,297.30" fill="#0000f5"/>
<polygon points="181.26,307.90 187.26,307.90 184.26,302.50" fill="#0000f5"/>
<polygon points="189.12,310.40 195.12,310.40 192.12,305.00" fill="#0000f5"/>
<polygon points="196.98,314.10 202.98,314.10 199.98,308.70" fill="#0000f5"/>
<polygon points="204.84,317.90 210.84,317.90 207.84,312.50" fill="#0000f5"/>
<polygon points="212.70,321.50 218.70,321.50 215.70,316.10" fill="#0000f5"/>
<polygon points="220.56,324.60 226.56,324.60 223.56,319.20" fill="#0000f5"/>
<polygon points="228.42,327.70 234.42,327.70 231.42,322.30" fill="#0000f5"/>
<polygon points="236.28,330.50 242.28,330.50 239.28,325.10" fill="#0000f5"/>
<polygon points="244.14,333.00 250.14,333.00 247.14,327.60" fill="#0000f5"/>
<polygon points="252.00,336.50 258.00,336.50 255.00,331.10" fill="#0000f5"/>
<rect x="345.47" y="229.20" width="10.4" height="145.30" fill="#008000" stroke="#005400" stroke-width="1.0"/>
<rect x="394.76" y="305.90" width="10.4" height="68.60" fill="#008000" stroke="#005400" stroke-width="1.0"/>
<rect x="436.26" y="323.00" width="10.4" height="51.50" fill="#008000" stroke="#005400" stroke-width="1.0"/>
<rect x="511.23" y="282.10" width="10.4" height="92.40" fill="#008000" stroke="#005400" stroke-width="1.0"/>
<line x1="324.73" y1="374.50" x2="324.73" y2="376.50" stroke="#4a4a4a" stroke-width="1.3"/>
<line x1="337.70" y1="374.50" x2="337.70" y2="377.50" stroke="#4a4a4a" stroke-width="1.3"/>
<line x1="350.67" y1="374.50" x2="350.67" y2="376.50" stroke="#4a4a4a" stroke-width="1.3"/>
<line x1="363.64" y1="374.50" x2="363.64" y2="377.50" stroke="#4a4a4a" stroke-width="1.3"/>
<line x1="376.61" y1="374.50" x2="376.61" y2="376.50" stroke="#4a4a4a" stroke-width="1.3"/>
<line x1="389.58" y1="374.50" x2="389.58" y2="377.50" stroke="#4a4a4a" stroke-width="1.3"/>
<line x1="402.55" y1="374.50" x2="402.55" y2="376.50" stroke="#4a4a4a" stroke-width="1.3"/>
<line x1="415.52" y1="374.50" x2="415.52" y2="377.50" stroke="#4a4a4a" stroke-width="1.3"/>
<line x1="428.49" y1="374.50" x2="428.49" y2="376.50" stroke="#4a4a4a" stroke-width="1.3"/>
<line x1="441.46" y1="374.50" x2="441.46" y2="377.50" stroke="#4a4a4a" stroke-width="1.3"/>
<line x1="454.43" y1="374.50" x2="454.43" y2="376.50" stroke="#4a4a4a" stroke-width="1.3"/>
<line x1="467.40" y1="374.50" x2="467.40" y2="377.50" stroke="#4a4a4a" stroke-width="1.3"/>
<line x1="480.37" y1="374.50" x2="480.37" y2="376.50" stroke="#4a4a4a" stroke-width="1.3"/>
<line x1="493.34" y1="374.50" x2="493.34" y2="377.50" stroke="#4a4a4a" stroke-width="1.3"/>
<line x1="506.31" y1="374.50" x2="506.31" y2="376.50" stroke="#4a4a4a" stroke-width="1.3"/>
<line x1="519.28" y1="374.50" x2="519.28" y2="377.50" stroke="#4a4a4a" stroke-width="1.3"/>
<line x1="532.25" y1="374.50" x2="532.25" y2="376.50" stroke="#4a4a4a" stroke-width="1.3"/>
<line x1="319.90" y1="374.50" x2="322.90" y2="374.50" stroke="#4a4a4a" stroke-width="1.3"/>
<line x1="321.10" y1="356.23" x2="322.90" y2="356.23" stroke="#4a4a4a" stroke-width="1.3"/>
<line x1="319.90" y1="337.95" x2="322.90" y2="337.95" stroke="#4a4a4a" stroke-width="1.3"/>
<line x1="321.10" y1="319.68" x2="322.90" y2="319.68" stroke="#4a4a4a" stroke-width="1.3"/>
<line x1="319.90" y1="301.40" x2="322.90" y2="301.40" stroke="#4a4a4a" stroke-width="1.3"/>
<line x1="321.10" y1="283.12" x2="322.90" y2="283.12" stroke="#4a4a4a" stroke-width="1.3"/>
<line x1="319.90" y1="264.85" x2="322.90" y2="264.85" stroke="#4a4a4a" stroke-width="1.3"/>
<line x1="321.10" y1="246.57" x2="322.90" y2="246.57" stroke="#4a4a4a" stroke-width="1.3"/>
<line x1="319.90" y1="228.30" x2="322.90" y2="228.30" stroke="#4a4a4a" stroke-width="1.3"/>
<rect x="322.90" y="210.60" width="220.60" height="163.90" fill="none" stroke="#4a4a4a" stroke-width="1.3"/>
<text x="317.40" y="378.20" font-size="10.5" text-anchor="end" font-weight="normal" fill="#111111" stroke="#111111" stroke-width="0.1" >0</text>
<text x="317.40" y="341.65" font-size="10.5" text-anchor="end" font-weight="normal" fill="#111111" stroke="#111111" stroke-width="0.1" >500</text>
<text x="317.40" y="305.10" font-size="10.5" text-anchor="end" font-weight="normal" fill="#111111" stroke="#111111" stroke-width="0.1" >1000</text>
<text x="317.40" y="268.55" font-size="10.5" text-anchor="end" font-weight="normal" fill="#111111" stroke="#111111" stroke-width="0.1" >1500</text>
<text x="317.40" y="232.00" font-size="10.5" text-anchor="end" font-weight="normal" fill="#111111" stroke="#111111" stroke-width="0.1" >2000</text>
<text x="337.70" y="389.00" font-size="10.4" text-anchor="middle" font-weight="normal" fill="#111111" stroke="#111111" stroke-width="0.1" >5</text>
<text x="363.64" y="389.00" font-size="10.4" text-anchor="middle" font-weight="normal" fill="#111111" stroke="#111111" stroke-width="0.1" >6</text>
<text x="389.58" y="389.00" font-size="10.4" text-anchor="middle" font-weight="normal" fill="#111111" stroke="#111111" stroke-width="0.1" >7</text>
<text x="415.52" y="389.00" font-size="10.4" text-anchor="middle" font-weight="normal" fill="#111111" stroke="#111111" stroke-width="0.1" >8</text>
<text x="441.46" y="389.00" font-size="10.4" text-anchor="middle" font-weight="normal" fill="#111111" stroke="#111111" stroke-width="0.1" >9</text>
<text x="467.40" y="389.00" font-size="10.4" text-anchor="middle" font-weight="normal" fill="#111111" stroke="#111111" stroke-width="0.1" >10</text>
<text x="493.34" y="389.00" font-size="10.4" text-anchor="middle" font-weight="normal" fill="#111111" stroke="#111111" stroke-width="0.1" >11</text>
<text x="519.28" y="389.00" font-size="10.4" text-anchor="middle" font-weight="normal" fill="#111111" stroke="#111111" stroke-width="0.1" >12</text>
<text x="433.30" y="405.60" font-size="10.6" text-anchor="middle" font-weight="normal" fill="#111111" stroke="#111111" stroke-width="0.1" >pH</text>
<text transform="translate(288.4,299.4) rotate(-90)" font-size="10.85" text-anchor="middle" fill="#111111" stroke="#111111" stroke-width="0.1">Complex Viscosity (Pa.s)</text>
<text x="514.60" y="234.60" font-size="14" text-anchor="start" font-weight="normal" fill="#111111" stroke="#111111" stroke-width="0.1" >d</text>
</svg>
</body></html>
